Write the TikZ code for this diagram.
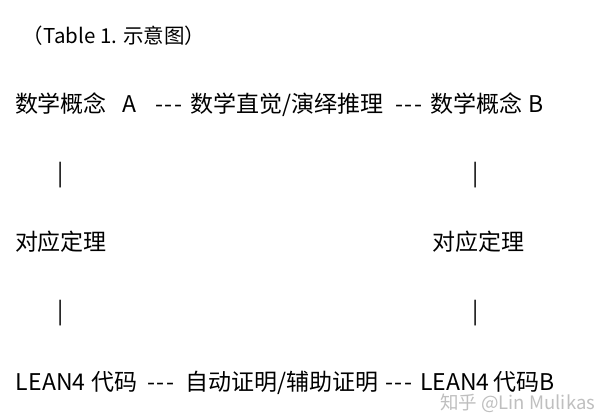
\documentclass[tikz,border=0pt]{standalone}
\usepackage{fontspec}
\setmainfont{Noto Sans CJK SC}
\newcommand{\dsh}{-\kern1.6pt-\kern1.6pt-}
\begin{document}
\begin{tikzpicture}[x=1pt,y=-1pt,
  txt/.style={anchor=base west,inner sep=0pt,outer sep=0pt,font=\fontsize{23}{27}\selectfont,text=black},
  ttl/.style={txt,font=\fontsize{20.5}{24}\selectfont},
  bar/.style={anchor=center,inner sep=0pt,font=\fontsize{23}{27}\selectfont,text=black},
  wm/.style={anchor=base west,inner sep=0pt,font=\fontsize{18.5}{22}\selectfont,text=black!25}]
\useasboundingbox[fill=white] (0,0) rectangle (600,420);
% title
\node[ttl] (title) at (23,44) {（Table 1. 示意图）};
% line 2
\node[txt] (ca) at (15,112) {数学概念};
\node[txt] (la) at (122,112) {A};
\node[txt] (d1) at (155,112) {\dsh};
\node[txt] (mid1) at (190,112) {数学直觉/演绎推理};
\node[txt] (d2) at (395,112) {\dsh};
\node[txt] (cb) at (430,112) {数学概念};
\node[txt] (lb) at (528,112) {B};
% bars
\node[bar] (b1) at (61,175) {|};
\node[bar] (b2) at (476,175) {|};
% line 3
\node[txt] (ta) at (15,250) {对应定理};
\node[txt] (tb) at (432,250) {对应定理};
% bars
\node[bar] (b3) at (61,313) {|};
\node[bar] (b4) at (476,313) {|};
% line 5
\node[txt] (lean1) at (16,390) {LEAN4};
\node[txt] (code1) at (91,390) {代码};
\node[txt] (d3) at (147,390) {\dsh};
\node[txt] (mid2) at (185,390) {自动证明/辅助证明};
\node[txt] (d4) at (385,390) {\dsh};
\node[txt] (lean2) at (420,390) {LEAN4};
\node[txt] (code2) at (493,390) {代码B};
% watermark
\node[wm] (mark) at (440,409) {知乎 @Lin Mulikas};
\end{tikzpicture}
\end{document}
